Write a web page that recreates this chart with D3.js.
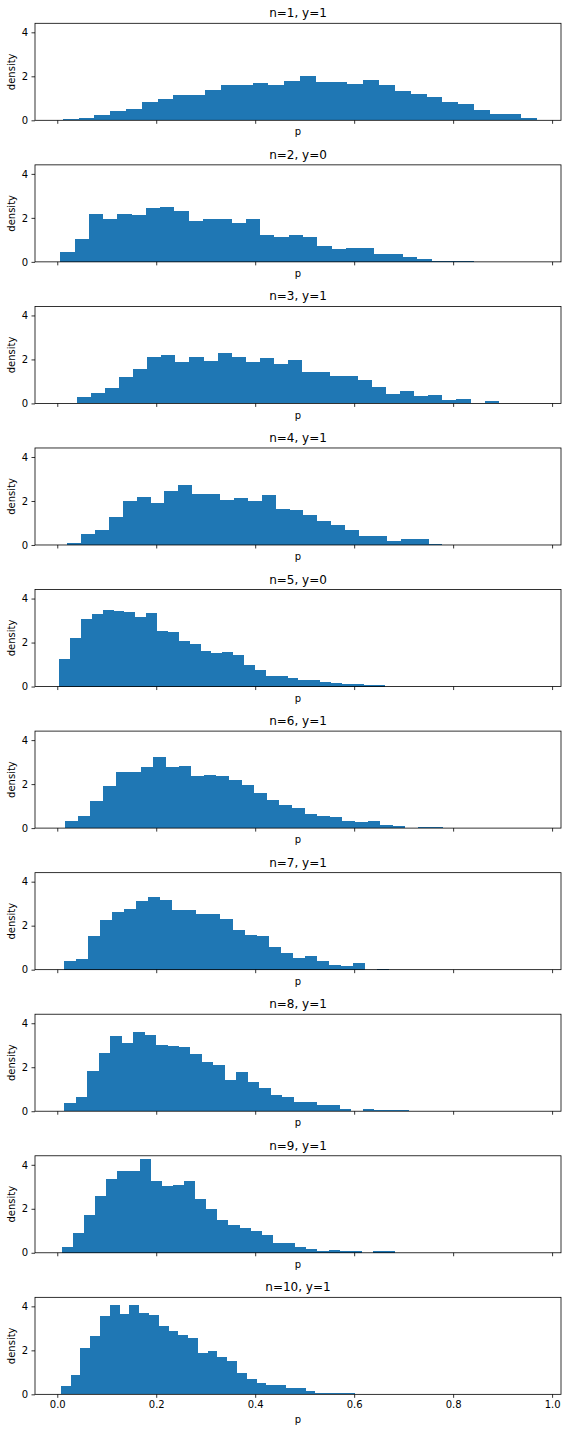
<!DOCTYPE html>
<html>
<head>
<meta charset="utf-8">
<script src="https://cdn.jsdelivr.net/npm/d3@7/dist/d3.min.js"></script>
<style>
	body { margin: 0; background: #fff; }
	svg text { font-family: "DejaVu Sans", sans-serif; fill: #000; }
</style>
</head>
<body>
<svg id="mainsvg" width="568" height="1432"></svg>
<script>
// one histogram per subplot, densities
var titles = ['n=1, y=1', 'n=2, y=0', 'n=3, y=1', 'n=4, y=1', 'n=5, y=0',
	'n=6, y=1', 'n=7, y=1', 'n=8, y=1', 'n=9, y=1', 'n=10, y=1'];

// first and last bin edge of each histogram
var binLo = [0.011, 0.006, 0.040, 0.020, 0.004, 0.016, 0.014, 0.014, 0.009, 0.007];
var binHi = [0.970, 0.843, 0.892, 0.7785, 0.663, 0.780, 0.670, 0.710, 0.683, 0.601];

var dens1 = [0.06, 0.11, 0.24, 0.42, 0.52, 0.83, 0.97, 1.15, 1.15, 1.38, 1.61, 1.61, 1.70, 1.61, 1.79,
	2.02, 1.74, 1.74, 1.65, 1.83, 1.61, 1.33, 1.20, 1.06, 0.83, 0.74, 0.47, 0.29, 0.29, 0.11];
var dens2 = [0.47, 1.06, 2.17, 1.94, 2.17, 2.13, 2.45, 2.50, 2.31, 1.85, 1.94, 1.94, 1.76, 1.94, 1.21,
	1.12, 1.21, 1.12, 0.70, 0.57, 0.61, 0.61, 0.34, 0.34, 0.20, 0.15, 0.05, 0.05, 0.05];
var dens3 = [0.29, 0.47, 0.70, 1.20, 1.57, 2.09, 2.21, 1.89, 2.12, 1.94, 2.30, 2.12, 1.89, 2.07, 1.80,
	1.98, 1.43, 1.43, 1.25, 1.25, 1.07, 0.75, 0.43, 0.56, 0.34, 0.38, 0.15, 0.20, 0, 0.11];
var dens4 = [0.11, 0.52, 0.70, 1.26, 1.99, 2.18, 1.90, 2.45, 2.73, 2.31, 2.31, 2.04, 2.13, 1.99, 2.27,
	1.62, 1.58, 1.35, 1.07, 0.89, 0.66, 0.43, 0.43, 0.20, 0.29, 0.29, 0.06];
var dens5 = [1.25, 2.21, 3.07, 3.30, 3.48, 3.44, 3.39, 3.16, 3.35, 2.52, 2.48, 2.07, 1.93, 1.61, 1.52,
	1.57, 1.43, 0.97, 0.75, 0.47, 0.47, 0.38, 0.29, 0.29, 0.20, 0.15, 0.11, 0.11, 0.06, 0.06];
var dens6 = [0.32, 0.55, 1.23, 1.92, 2.56, 2.56, 2.78, 3.24, 2.78, 2.83, 2.37, 2.42, 2.37, 2.19, 1.96,
	1.60, 1.28, 1.05, 0.91, 0.64, 0.55, 0.50, 0.32, 0.27, 0.32, 0.14, 0.09, 0, 0.05, 0.05];
var dens7 = [0.41, 0.47, 1.53, 2.25, 2.62, 2.76, 3.13, 3.31, 3.17, 2.71, 2.71, 2.53, 2.53, 2.30, 1.79,
	1.56, 1.52, 1.01, 0.74, 0.55, 0.60, 0.41, 0.23, 0.18, 0.32, 0, 0.05];
var dens8 = [0.37, 0.64, 1.83, 2.65, 3.42, 3.10, 3.60, 3.47, 3.01, 2.97, 2.92, 2.60, 2.24, 2.10, 1.41,
	1.78, 1.32, 1.05, 0.73, 0.64, 0.41, 0.41, 0.27, 0.27, 0.09, 0, 0.09, 0.05, 0.05, 0.05];
var dens9 = [0.25, 0.89, 1.72, 2.59, 3.37, 3.74, 3.74, 4.25, 3.28, 3.05, 3.10, 3.28, 2.45, 1.99, 1.49,
	1.26, 1.12, 0.98, 0.80, 0.43, 0.43, 0.25, 0.15, 0.06, 0.11, 0.06, 0.06, 0, 0.06, 0.06];
var dens10 = [0.37, 0.87, 2.10, 2.65, 3.56, 4.06, 3.65, 4.06, 3.70, 3.60, 3.10, 2.87, 2.69, 2.56, 1.87,
	1.96, 1.69, 1.51, 0.96, 0.68, 0.50, 0.41, 0.41, 0.27, 0.27, 0.14, 0.05, 0.05, 0.05, 0.05];
var densities = [dens1, dens2, dens3, dens4, dens5, dens6, dens7, dens8, dens9, dens10];

var xTicks = [0, 0.2, 0.4, 0.6, 0.8, 1.0];
var yTicks = [0, 2, 4];

var svg = d3.select('#mainsvg');
var left = 35, right = 561;
var top0 = 23.3, axH = 97, step = 141.56;
var blue = '#1f77b4';

var x = d3.scaleLinear().domain([-0.045, 1.018]).range([left, right]);
var y = d3.scaleLinear().domain([0, 4.41]).range([axH, 0]);

densities.forEach(function(vals, k) {
	var g = svg.append('g').attr('transform', 'translate(0,' + (top0 + k * step) + ')');
	var w = (binHi[k] - binLo[k]) / vals.length;
	var bins = vals.map(function(v, i) {
		return {x0: binLo[k] + i * w, x1: binLo[k] + (i + 1) * w, v: v};
	}).filter(function(d) { return d.v > 0; });

	g.selectAll('rect.bar')
		.data(bins)
		.enter()
		.append('rect')
		.attr('class', 'bar')
		.attr('x', function(d) { return x(d.x0); })
		.attr('width', function(d) { return x(d.x1) - x(d.x0); })
		.attr('y', function(d) { return y(d.v); })
		.attr('height', function(d) { return axH - y(d.v); })
		.attr('fill', blue)
		.attr('shape-rendering', 'crispEdges');

	var last = (k == densities.length - 1);
	var xAxis = d3.axisBottom(x)
		.tickValues(xTicks)
		.tickSize(3.5)
		.tickSizeOuter(0)
		.tickPadding(3.5)
		.tickFormat(last ? d3.format('.1f') : function() { return ''; });
	var gx = g.append('g').attr('transform', 'translate(0,' + axH + ')').call(xAxis);
	gx.select('.domain').remove();

	var yAxis = d3.axisLeft(y)
		.tickValues(yTicks)
		.tickSize(3.5)
		.tickSizeOuter(0)
		.tickPadding(3.5)
		.tickFormat(d3.format('d'));
	var gy = g.append('g').attr('transform', 'translate(' + left + ',0)').call(yAxis);
	gy.select('.domain').remove();

	g.selectAll('.tick line').attr('stroke', '#000').attr('stroke-width', 0.8);
	g.selectAll('.tick text').attr('font-size', 10).attr('fill', '#000')
		.style('font-family', '"DejaVu Sans", sans-serif');

	// frame
	g.append('rect')
		.attr('x', left)
		.attr('y', 0)
		.attr('width', right - left)
		.attr('height', axH)
		.attr('fill', 'none')
		.attr('stroke', '#000')
		.attr('stroke-width', 0.8);

	g.append('text')
		.attr('x', (left + right) / 2)
		.attr('y', -6)
		.attr('text-anchor', 'middle')
		.attr('font-size', 12)
		.text(titles[k]);

	g.append('text')
		.attr('x', (left + right) / 2)
		.attr('y', axH + (last ? 29 : 15.1))
		.attr('text-anchor', 'middle')
		.attr('font-size', 10)
		.text('p');

	g.append('text')
		.attr('transform', 'translate(15,' + (axH / 2) + ') rotate(-90)')
		.attr('text-anchor', 'middle')
		.attr('font-size', 10)
		.text('density');
});
</script>
</body>
</html>
